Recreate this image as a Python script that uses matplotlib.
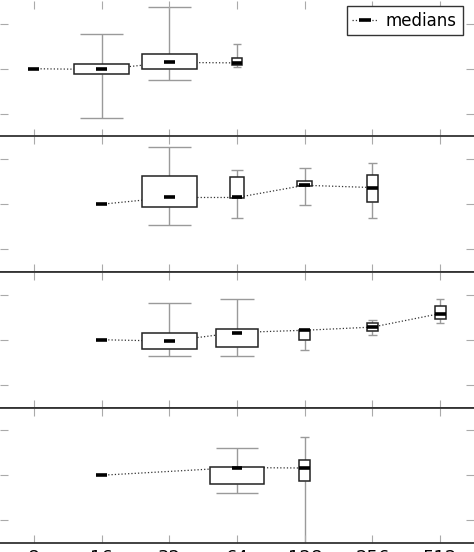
import matplotlib

matplotlib.use("Agg")
import matplotlib.pyplot as plt
from matplotlib.lines import Line2D

x_labels = ["8", "16", "32", "64", "128", "256", "512"]

# per panel: (position index, whisker low, q1, median, q3, whisker high, box width)
# width 0 -> only a median marker
panel_1 = [
    (0, None, None, 0.0, None, None, 0),
    (1, -1.09, -0.11, -0.015, 0.10, 0.77, 0.81),
    (2, -0.24, -0.01, 0.14, 0.33, 1.37, 0.81),
    (3, 0.03, 0.08, 0.13, 0.24, 0.55, 0.16),
]
panel_2 = [
    (1, None, None, 0.0, None, None, 0),
    (2, -0.47, -0.05, 0.15, 0.63, 1.26, 0.81),
    (3, -0.30, 0.14, 0.15, 0.60, 0.76, 0.22),
    (4, -0.02, 0.40, 0.42, 0.51, 0.81, 0.22),
    (5, -0.31, 0.04, 0.37, 0.65, 0.91, 0.17),
]
panel_3 = [
    (1, None, None, 0.0, None, None, 0),
    (2, -0.35, -0.20, -0.03, 0.15, 0.82, 0.81),
    (3, -0.36, -0.17, 0.16, 0.24, 0.90, 0.63),
    (4, -0.22, -0.01, 0.21, 0.22, 0.22, 0.16),
    (5, 0.10, 0.19, 0.28, 0.37, 0.44, 0.16),
    (6, 0.38, 0.47, 0.58, 0.74, 0.90, 0.16),
]
panel_4 = [
    (1, None, None, 0.0, None, None, 0),
    (3, -0.39, -0.19, 0.17, 0.19, 0.61, 0.81),
    (4, -2.0, -0.13, 0.16, 0.33, 0.85, 0.16),
]
panels = [panel_1, panel_2, panel_3, panel_4]

fig = plt.figure(figsize=(4.74, 5.52), dpi=100)
plt.rcParams["font.family"] = "DejaVu Sans"

panel_h = 135.5 / 552
bottom0 = 9 / 552
grey = "#9a9a9a"

for k, data in enumerate(panels):
    ax = fig.add_axes([0, bottom0 + (3 - k) * panel_h, 1, panel_h])
    ax.set_xlim(-0.5, 6.5)
    ax.set_ylim(-1.5, 1.5)
    for side in ("left", "right"):
        ax.spines[side].set_visible(False)
    for side in ("top", "bottom"):
        ax.spines[side].set_linewidth(1.3)
        ax.spines[side].set_color("#333333")
    if k == 0:
        ax.spines["top"].set_visible(False)
    ax.set_xticks(range(len(x_labels)))
    ax.set_yticks([-1, 0, 1])
    ax.tick_params(direction="in", length=6, color="#aaaaaa", top=True, right=True,
                   labelleft=False)
    if k == 3:
        ax.set_xticklabels(x_labels, fontsize=13)
        ax.tick_params(axis="x", pad=4)
    else:
        ax.tick_params(labelbottom=False)

    xs = [d[0] for d in data]
    meds = [d[3] for d in data]
    ax.plot(xs, meds, color="#333333", linestyle=":", linewidth=0.9, zorder=1)
    for pos, wlo, q1, med, q3, whi, w in data:
        if w > 0:
            cap = max(w * 0.78, 0.12)
            ax.vlines(pos, wlo, q1, color=grey, lw=1, zorder=1)
            ax.vlines(pos, q3, whi, color=grey, lw=1, zorder=1)
            ax.hlines([wlo, whi], pos - cap / 2, pos + cap / 2, color=grey, lw=1, zorder=1)
            ax.add_patch(plt.Rectangle((pos - w / 2, q1), w, q3 - q1, facecolor="white",
                                       edgecolor="#222222", lw=1.1, zorder=2))
        ax.hlines(med, pos - 0.08, pos + 0.08, color="black", lw=2.6, zorder=3)

    if k == 0:
        handle = Line2D([0], [0], color="#333333", linestyle=":", linewidth=0.9)
        mark = Line2D([0], [0], color="black", lw=2.6, marker="_", markersize=9,
                      markeredgewidth=2.6, linestyle="none")
        ax.legend([(handle, mark)], ["medians"], loc="upper right", fontsize=12,
                  fancybox=False, edgecolor="#333333", framealpha=1,
                  handlelength=1.5, handletextpad=0.5, borderpad=0.35,
                  borderaxespad=0.2, bbox_to_anchor=(0.983, 0.99))

fig.savefig("out.png", dpi=100)
